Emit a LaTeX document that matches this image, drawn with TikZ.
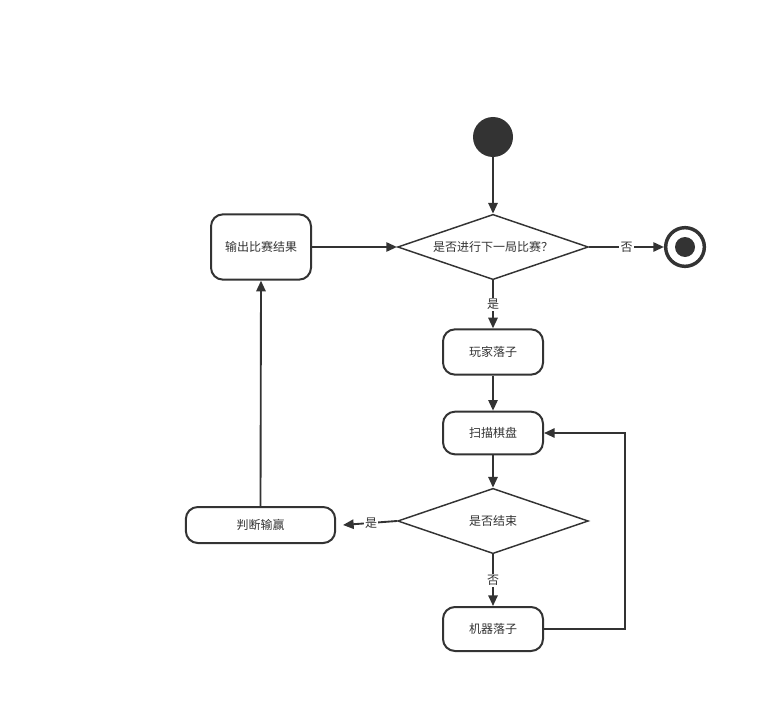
\documentclass[tikz,border=0pt]{standalone}
\usepackage{fontspec}
\setmainfont{Noto Sans CJK SC}
\usetikzlibrary{shapes.geometric,arrows.meta}
\definecolor{ink}{HTML}{333333}
\begin{document}
\begin{tikzpicture}[x=0.75pt,y=-0.75pt,
  every node/.style={font=\fontsize{9}{11}\selectfont,text=ink},
  box/.style={draw=ink,line width=1.5pt,rounded corners=9pt,inner sep=0pt},
  dia/.style={draw=ink,line width=1.1pt,diamond,aspect=2.94,inner sep=0pt,minimum width=143pt,minimum height=49pt},
  arr/.style={draw=ink,line width=1.4pt,-{Triangle[length=8pt,width=7pt]}},
  lbl/.style={fill=white,inner sep=1pt}]
\useasboundingbox (0,0) rectangle (767,713);
\node[circle,fill=ink,minimum size=30pt,inner sep=0pt] (start) at (493,137) {};
\node[dia] (d1) at (493,247) {是否进行下一局比赛？};
\node[circle,draw=ink,line width=2.6pt,minimum size=29pt,inner sep=0pt] (end) at (685,247) {};
\node[circle,fill=ink,minimum size=15pt,inner sep=0pt] (endin) at (685,247) {};
\node[box,minimum width=75pt,minimum height=49pt] (out) at (261,247) {输出比赛结果};
\node[box,minimum width=75pt,minimum height=34pt] (play) at (493,352) {玩家落子};
\node[box,minimum width=75pt,minimum height=32pt] (scan) at (493,433) {扫描棋盘};
\node[dia] (d2) at (493,521) {是否结束};
\node[box,minimum width=112pt,minimum height=27pt] (judge) at (260.5,525) {判断输赢};
\node[box,minimum width=75pt,minimum height=33pt] (mach) at (493,629) {机器落子};
\coordinate (c1) at (625,629);
\coordinate (c2) at (625,433);
\draw[arr] (start) -- (d1);
\draw[arr] (d1) -- node[lbl]{否} (end);
\draw[arr] (d1) -- node[lbl]{是} (play);
\draw[arr] (play) -- (scan);
\draw[arr] (scan) -- (d2);
\draw[arr] (d2.west) -- node[lbl,pos=0.48]{是} (judge.east -| 343,0);
\draw[arr] (d2) -- node[lbl]{否} (mach);
\draw[arr] (mach.east) -- (c1) -- (c2) -- (scan.east);
\draw[arr] (judge.north) -- (out.south);
\draw[arr] (out.east) -- (d1.west);
\end{tikzpicture}
\end{document}
